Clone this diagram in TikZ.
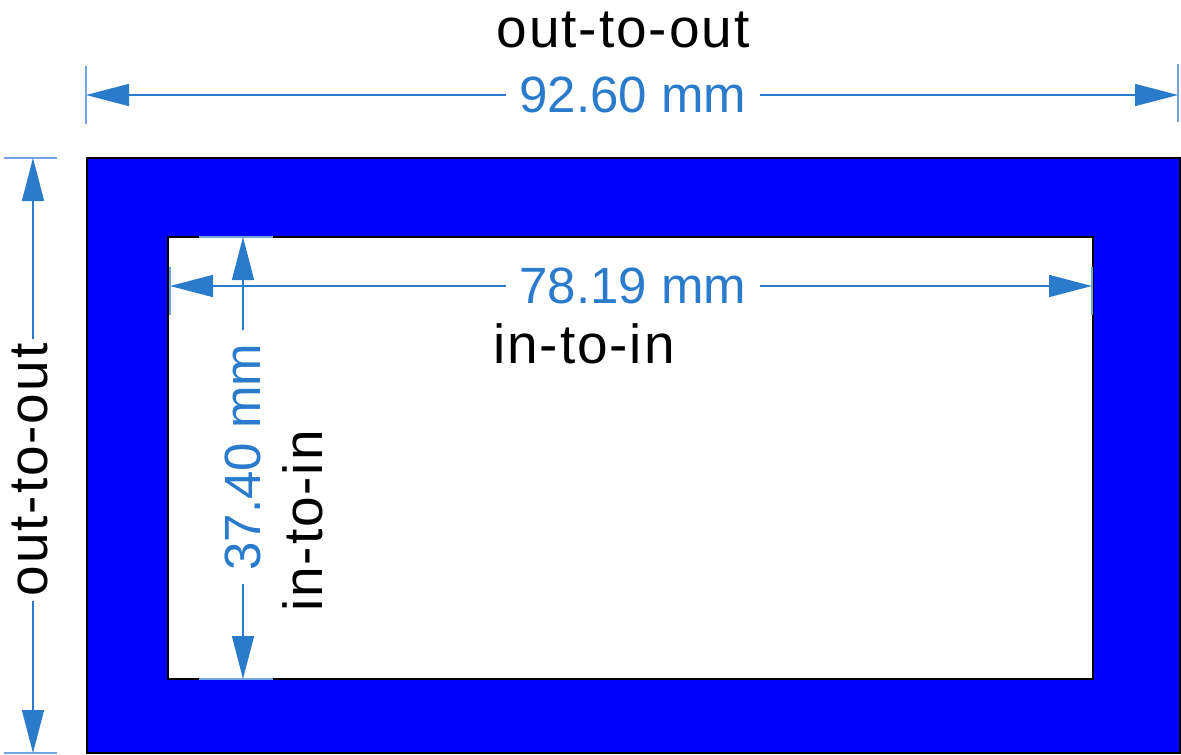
\documentclass[tikz,border=0pt]{standalone}
\usepackage{fontspec}
\setmainfont{Liberation Sans}
\newfontfamily\lblfont[LetterSpace=3.5]{Liberation Sans}
\usetikzlibrary{arrows.meta}
\definecolor{dimblue}{RGB}{42,123,204}
\definecolor{extblue}{RGB}{110,165,222}
\definecolor{boxblue}{RGB}{0,0,255}
\tikzset{
  dimline/.style={draw=dimblue, line width=1.5pt, -{Triangle[length=43pt,width=22pt]}},
  extline/.style={draw=extblue, line width=1.5pt},
  dimtext/.style={text=dimblue, font=\fontsize{51}{60}\selectfont, inner sep=13pt},
  captext/.style={text=black, font=\lblfont\fontsize{55}{64}\selectfont, inner sep=4pt},
  outerbox/.style={draw=black, line width=2.5pt, fill=boxblue},
  innerbox/.style={draw=black, line width=2pt, fill=white}
}
\begin{document}
\begin{tikzpicture}[x=1pt,y=-1pt]
\useasboundingbox (0,0) rectangle (1181,755);
% frame
\draw[outerbox] (87,158) rectangle (1180,753);
\draw[innerbox] (168,237) rectangle (1093,679);

% coordinates
\coordinate (tl) at (86,95);
\coordinate (tr) at (1178,95);
\coordinate (lt) at (33,158);
\coordinate (lb) at (33,753);
\coordinate (hl) at (170,286);
\coordinate (hr) at (1092,286);
\coordinate (vt) at (243,237);
\coordinate (vb) at (243,679);

% extension lines
\draw[extline] (86,66) -- (86,124);
\draw[extline] (1178,64) -- (1178,122);
\draw[extline] (4,158) -- (57,158);
\draw[extline] (4,753) -- (57,753);
\draw[extline] (199,237) -- (273,237);
\draw[extline] (199,679) -- (273,679);
\draw[extline] (170,267) -- (170,315);
\draw[extline] (1092,267) -- (1092,315);

% labels
\node[dimtext] (d1) at (633,95) {92.60 mm};
\node[dimtext] (d2) at (633,286) {78.19 mm};
\node[dimtext, rotate=90] (d3) at (243,457) {37.40 mm};
\node[captext, anchor=base] (c1) at (623,47) {out-to-out};
\node[captext, anchor=base] (c2) at (584,363) {in-to-in};
\node[captext, anchor=base, rotate=90] (c3) at (47,470) {out-to-out};
\node[captext, anchor=base, rotate=90] (c4) at (322,521) {in-to-in};

% dimension lines
\draw[dimline] (d1) -- (tl);
\draw[dimline] (d1) -- (tr);
\draw[dimline] (d2) -- (hl);
\draw[dimline] (d2) -- (hr);
\draw[dimline] (vt |- d3.east) -- (vt);
\draw[dimline] (vb |- d3.west) -- (vb);
\draw[dimline] (lt |- c3.east) -- (lt);
\draw[dimline] (lb |- c3.west) -- (lb);
\end{tikzpicture}
\end{document}
